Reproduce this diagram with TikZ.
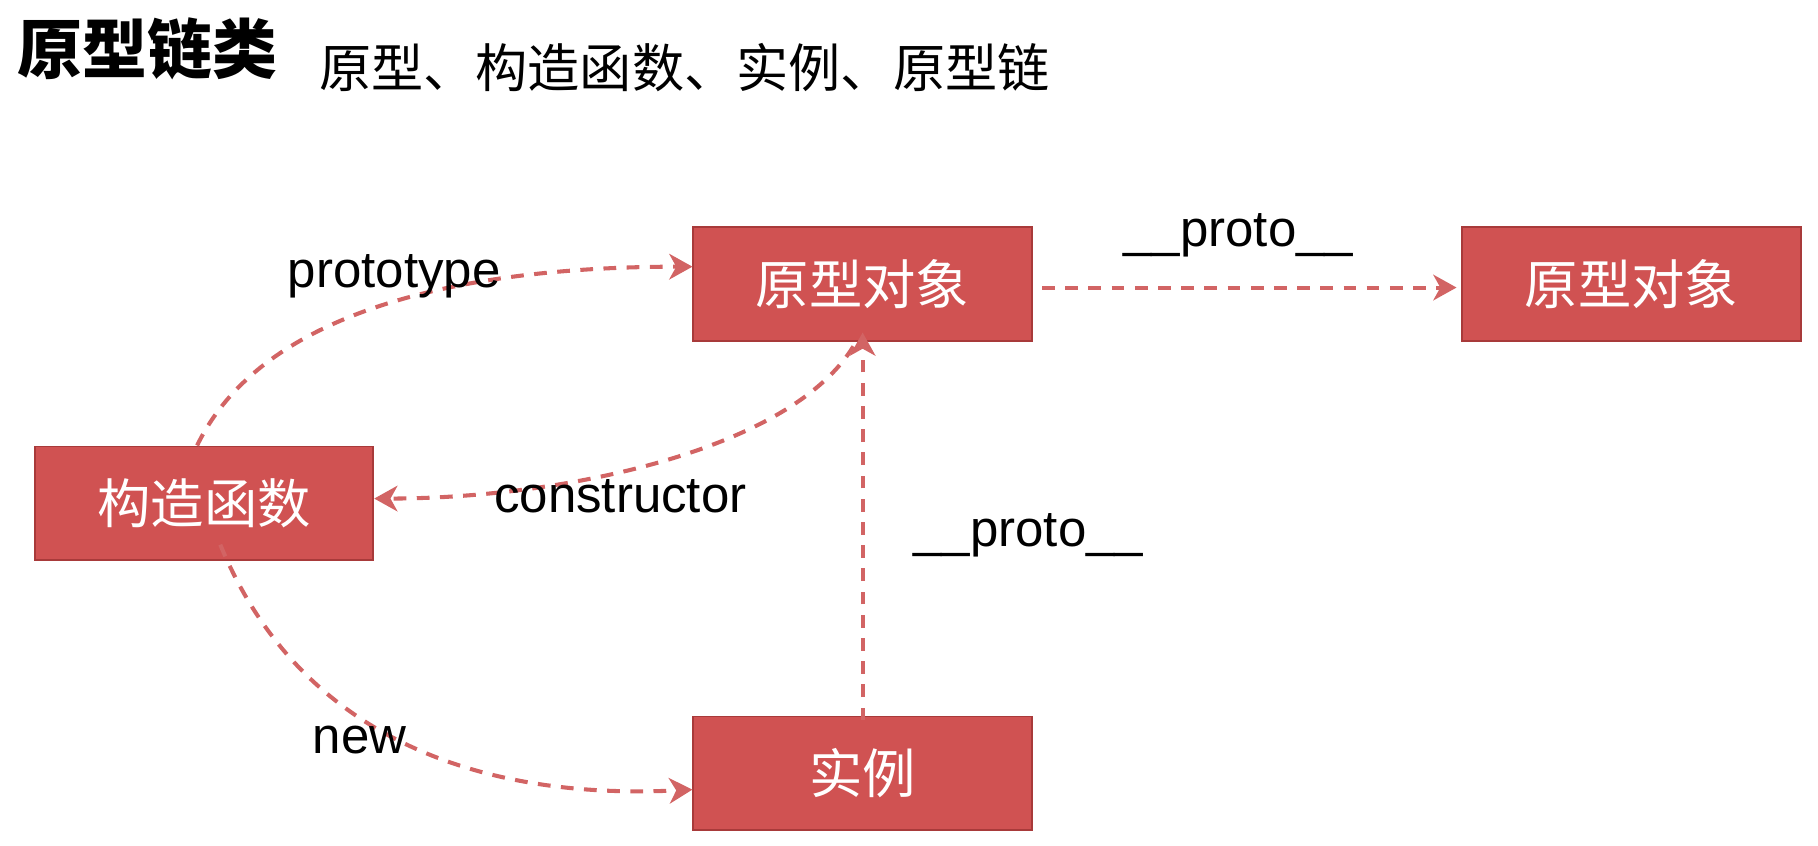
\documentclass[tikz,border=0pt]{standalone}
\usepackage{fontspec}
\setmainfont{Liberation Sans}
\newfontfamily\cjk{Noto Sans CJK SC}
\usetikzlibrary{arrows.meta}
\definecolor{boxfill}{HTML}{D05252}
\definecolor{boxline}{HTML}{A83A3A}
\definecolor{arr}{HTML}{D26464}
\tikzset{
 box/.style={draw=boxline,fill=boxfill,line width=1.5pt,minimum width=292pt,minimum height=98pt,text=white,font=\cjk\fontsize{46}{52}\selectfont},
 link/.style={draw=arr,line width=3.5pt,dash pattern=on 11pt off 9pt,-{Stealth[length=20pt,width=22pt,inset=6pt]}},
 lab/.style={font=\fontsize{44}{50}\selectfont,text=black}
}
\begin{document}
\begin{tikzpicture}[x=1pt,y=-1pt]
\useasboundingbox (0,0) rectangle (1568,729);
\node[anchor=west,font=\cjk\bfseries\fontsize{56}{60}\selectfont,inner sep=0pt] (title) at (15,42) {原型链类};
\node[anchor=west,font=\cjk\fontsize{45}{50}\selectfont,inner sep=0pt] (sub) at (275,58) {原型、构造函数、实例、原型链};
\node[box] (p1) at (744,245) {原型对象};
\node[box] (p2) at (1407,245) {原型对象};
\node[box] (c) at (176,434) {构造函数};
\node[box] (i) at (744,667) {实例};
\draw[link] ([xshift=-6pt]c.north) .. controls (230,260) and (420,230) .. ([yshift=15pt]p1.west);
\draw[link] ([xshift=-8pt,yshift=-4pt]p1.south) .. controls (680,390) and (480,430) .. ([yshift=4pt]c.east);
\draw[link] ([yshift=-3pt,xshift=8pt]p1.east) -- ([yshift=-3pt,xshift=-4pt]p2.west);
\draw[link] ([yshift=-4pt]i.north) -- ([yshift=8pt]p1.south);
\draw[link] ([xshift=14pt,yshift=14pt]c.south) .. controls (260,640) and (420,690) .. ([yshift=-14pt]p1.west |- i.west);
\node[lab] (l1) at (340,238) {prototype};
\node[lab] (l2) at (535,428) {constructor};
\node[lab] (l3) at (1068,203) {\_\_proto\_\_};
\node[lab] (l4) at (887,462) {\_\_proto\_\_};
\node[lab] (l5) at (310,638) {new};
\end{tikzpicture}
\end{document}
